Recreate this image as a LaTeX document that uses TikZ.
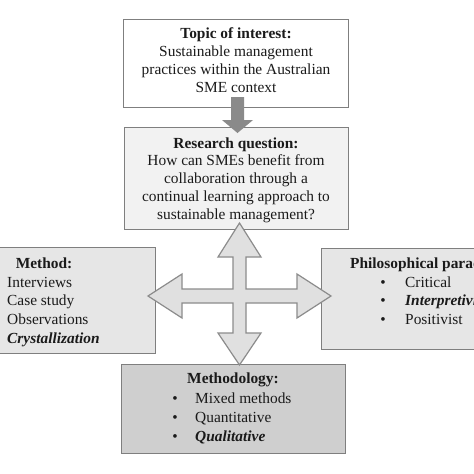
\documentclass[tikz,border=0pt]{standalone}
\usepackage{fontspec}
\setmainfont{Liberation Serif}
\definecolor{boxline}{HTML}{7F7F7F}
\definecolor{inkc}{HTML}{1A1A1A}
\definecolor{fillA}{HTML}{F2F2F2}
\definecolor{fillB}{HTML}{E6E6E6}
\definecolor{fillC}{HTML}{CFCFCF}
\definecolor{crossfill}{HTML}{E0E0E0}
\definecolor{crossline}{HTML}{8C8C8C}
\definecolor{darkarrow}{HTML}{8A8A8A}
\tikzset{
  boxnode/.style={draw=boxline, line width=1.2pt, inner sep=0pt, anchor=north west},
  txt/.style={anchor=base, inner sep=0pt, text=inkc, font=\fontsize{15.4}{18}\selectfont},
  txtl/.style={txt, anchor=base west},
  bullet/.style={txt, anchor=base}
}
\begin{document}
\begin{tikzpicture}[x=1pt,y=-1pt]
\useasboundingbox (0,0) rectangle (474,474);
\fill[white] (0,0) rectangle (474,474);
\clip (0,0) rectangle (474,474);

% boxes
\node[boxnode, fill=white, minimum width=225pt, minimum height=88pt] (topic) at (123,19) {};
\node[boxnode, fill=fillA, minimum width=224pt, minimum height=102pt] (rq) at (124,127) {};
\node[boxnode, fill=fillB, minimum width=165pt, minimum height=106pt] (method) at (-10,247) {};
\node[boxnode, fill=fillB, minimum width=170pt, minimum height=101pt] (phil) at (321,248) {};
\node[boxnode, fill=fillC, minimum width=224pt, minimum height=89pt] (mth) at (121,364) {};

% top box text
\node[txt] (t1) at (236,38) {\textbf{Topic of interest:}};
\node[txt] (t2) at (236,56.3) {Sustainable management};
\node[txt] (t3) at (236,74.6) {practices within the Australian};
\node[txt] (t4) at (236,92.9) {SME context};

% research question text
\node[txt] (r1) at (236,148) {\textbf{Research question:}};
\node[txt] (r2) at (236,165.8) {How can SMEs benefit from};
\node[txt] (r3) at (236,183.6) {collaboration through a};
\node[txt] (r4) at (236,201.4) {continual learning approach to};
\node[txt] (r5) at (236,219.2) {sustainable management?};

% method text
\node[txt] (m0) at (44,268) {\textbf{Method:}};
\node[txtl] (m1) at (7,287) {Interviews};
\node[txtl] (m2) at (7,305.7) {Case study};
\node[txtl] (m3) at (7,324.4) {Observations};
\node[txtl] (m4) at (7,343.1) {\textbf{\textit{Crystallization}}};

% philosophical text (cut off at the right edge, as in the reference)
\node[txtl] (p0) at (350,268) {\textbf{Philosophical paradigm:}};
\node[bullet] (pb1) at (383,287) {\textbullet};
\node[bullet] (pb2) at (383,305.5) {\textbullet};
\node[bullet] (pb3) at (383,324) {\textbullet};
\node[txtl] (p1) at (405,287) {Critical};
\node[txtl] (p2) at (405,305.5) {\textbf{\textit{Interpretivist}}};
\node[txtl] (p3) at (405,324) {Positivist};

% methodology text
\node[txt] (q0) at (233,383) {\textbf{Methodology:}};
\node[bullet] (qb1) at (175,403) {\textbullet};
\node[bullet] (qb2) at (175,422) {\textbullet};
\node[bullet] (qb3) at (175,441) {\textbullet};
\node[txtl] (q1) at (195,403) {Mixed methods};
\node[txtl] (q2) at (195,422) {Quantitative};
\node[txtl] (q3) at (195,441) {\textbf{\textit{Qualitative}}};

% dark arrow from topic to research question
\fill[darkarrow] (231,97) -- (244,97) -- (244,120) -- (253,120) -- (237.5,133)
  -- (222,120) -- (231,120) -- cycle;

% four-way arrow
\draw[crossline, fill=crossfill, line width=1.2pt, line join=miter]
  (239.5,223) -- (261,257) -- (246,257) -- (246,289) -- (297,289) -- (297,274)
  -- (331,296) -- (297,318) -- (297,303) -- (246,303) -- (246,333) -- (261,333)
  -- (239.5,365) -- (218,333) -- (233,333) -- (233,303) -- (182,303) -- (182,318)
  -- (148,296) -- (182,274) -- (182,289) -- (233,289) -- (233,257) -- (218,257) -- cycle;
\end{tikzpicture}
\end{document}
